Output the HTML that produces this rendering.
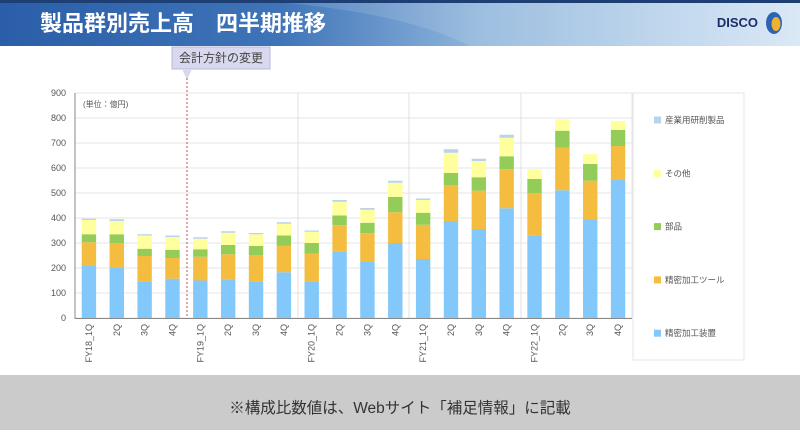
<!DOCTYPE html>
<html><head><meta charset="utf-8"><style>
body{margin:0;width:800px;height:430px;overflow:hidden;background:#fff;font-family:"Liberation Sans","Noto Sans CJK JP",sans-serif;}
</style></head><body>
<svg id="s" width="800" height="430" xmlns="http://www.w3.org/2000/svg" font-family="Liberation Sans, Noto Sans CJK JP, sans-serif">
<defs>
<linearGradient id="hg" x1="0" y1="0" x2="1" y2="0">
<stop offset="0" stop-color="#2a5ea8"/><stop offset="0.35" stop-color="#3f74b8"/><stop offset="0.6" stop-color="#8fb6dc"/><stop offset="1" stop-color="#d6e6f5"/>
</linearGradient>
</defs>
<rect x="0" y="0" width="800" height="46" fill="url(#hg)"/>
<path d="M250 0 Q400 10 470 46 L800 46 L800 0 Z" fill="#ffffff" opacity="0.12"/>
<rect x="0" y="0" width="800" height="3" fill="#1d3f73"/>
<text x="40" y="31" font-size="22" font-weight="bold" fill="#fff">製品群別売上高　四半期推移</text>
<text x="758" y="27" font-size="13" font-weight="bold" fill="#1a2d6b" text-anchor="end">DISCO</text>
<ellipse cx="774" cy="23" rx="8" ry="11" fill="#2b63b5"/><ellipse cx="776" cy="24" rx="4.5" ry="7" fill="#f0b030"/>
<rect x="172" y="47" width="98" height="22" fill="#d8d8ee" stroke="#b8b8d8"/>
<path d="M182 69 L187 80 L192 69 Z" fill="#d8d8ee"/>
<text x="221" y="62" font-size="12" fill="#444" text-anchor="middle">会計方針の変更</text>
<g id="g"></g>
<rect x="0" y="375" width="800" height="55" fill="#cbcbcb"/>
<text x="400" y="413" font-size="15.5" fill="#333" text-anchor="middle">※構成比数値は、Webサイト「補足情報」に記載</text>
</svg>
<script>
var d=[[208,303,335,392,397],[200,299,335,388,395],[147,248,277,330,335],[157,240,273,324,330],[150,245,275,317,323],[155,255,292,341,347],[147,252,288,335,340],[183,290,330,377,383],[147,257,300,345,350],[267,371,410,465,472],[224,339,381,433,440],[300,423,484,541,549],[236,373,421,472,478],[388,532,580,661,675],[356,509,563,628,637],[439,595,647,721,733],[331,499,556,595,595],[511,681,749,795,795],[394,549,616,656,656],[552,688,752,788,788]];
var c=["#82c8fa","#f4bd40","#94cc5a","#ffff9e","#b8d4ea"];
var labs=["FY18_1Q","2Q","3Q","4Q","FY19_1Q","2Q","3Q","4Q","FY20_1Q","2Q","3Q","4Q","FY21_1Q","2Q","3Q","4Q","FY22_1Q","2Q","3Q","4Q"];
var h='';
function Y(v){return 318-v*0.25;}
for(var i=0;i<=9;i++){var y=Y(i*100);h+='<line x1="75" x2="632" y1="'+y+'" y2="'+y+'" stroke="#e6e6e6"/>';h+='<text x="66" y="'+(y+3)+'" font-size="9" fill="#555" text-anchor="end">'+(i*100)+'</text>';}
[298,409,521].forEach(function(x){h+='<line x1="'+x+'" x2="'+x+'" y1="93" y2="318" stroke="#e0e0e0"/>';});
h+='<line x1="632" x2="632" y1="93" y2="318" stroke="#e6e6e6"/>';
var s=27.85;
for(var i=0;i<20;i++){var cx=75+s*(i+0.5),p=0;for(var k=0;k<5;k++){var v=d[i][k];if(v>p){h+='<rect x="'+(cx-7.2)+'" y="'+Y(v)+'" width="14.4" height="'+((v-p)*0.25)+'" fill="'+c[k]+'"/>';}p=Math.max(p,v);}
h+='<text transform="translate('+(cx+3)+',324) rotate(-90)" font-size="9" fill="#555" text-anchor="end">'+labs[i]+'</text>';}
h+='<line x1="187" x2="187" y1="78" y2="318" stroke="#c0504d" stroke-dasharray="2,2"/>';
h+='<line x1="75" x2="75" y1="93" y2="319" stroke="#888"/><line x1="75" x2="632" y1="318.5" y2="318.5" stroke="#888"/>';
h+='<text x="83" y="107" font-size="8" fill="#555">(単位：億円)</text>';
h+='<rect x="633" y="93" width="111" height="267" fill="#fff" stroke="#e4e4e4"/>';
var L=["産業用研削製品","その他","部品","精密加工ツール","精密加工装置"],LC=[c[4],c[3],c[2],c[1],c[0]];
for(var j=0;j<5;j++){var y=120+j*53.3;h+='<rect x="654" y="'+(y-3.5)+'" width="7" height="7" fill="'+LC[j]+'"/><text x="665" y="'+(y+3)+'" font-size="8.5" fill="#555">'+L[j]+'</text>';}
document.getElementById('g').innerHTML=h;
</script>
</body></html>
